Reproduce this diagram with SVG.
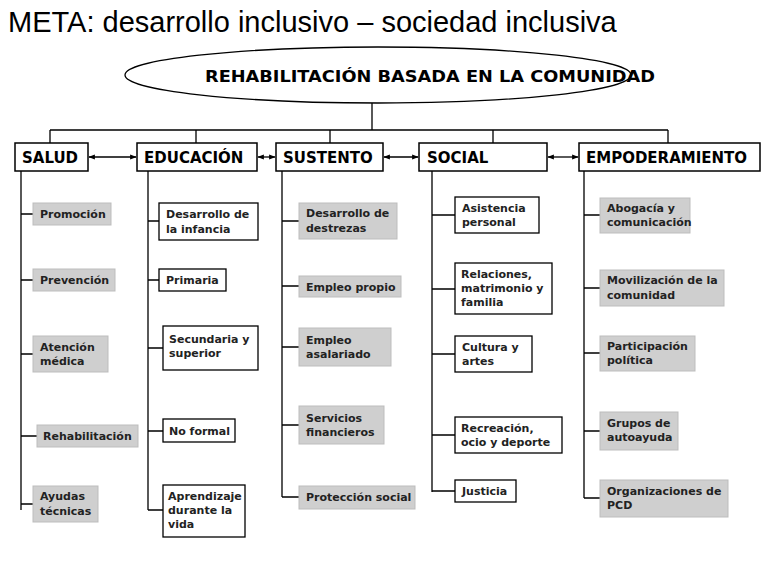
<svg xmlns="http://www.w3.org/2000/svg" width="768" height="576" viewBox="0 0 768 576">
<defs>
<marker id="a" viewBox="0 0 10 10" refX="9" refY="5" markerWidth="5" markerHeight="5" orient="auto-start-reverse"><path d="M0,1 L10,5 L0,9 z" fill="#000"/></marker>
<style>
.h{fill:#fff;stroke:#000;stroke-width:1.5}
.w{fill:#fff;stroke:#000;stroke-width:1.3}
.g{fill:#cfcfcf;stroke:#bdbdbd;stroke-width:1}
.l{stroke:#000;stroke-width:1.3;fill:none}
.ar{stroke:#000;stroke-width:1.3;fill:none;marker-start:url(#a);marker-end:url(#a)}
.ht{font-family:"DejaVu Sans",sans-serif;font-weight:bold;font-size:15px}
.t{font-family:"DejaVu Sans",sans-serif;font-weight:bold;font-size:11px;fill:#222}
</style>
</defs>
<rect width="768" height="576" fill="#fff"/>
<text x="8" y="32" font-family="Liberation Sans,Arial,sans-serif" font-size="29">META: desarrollo inclusivo – sociedad inclusiva</text>
<g id="rbc"><ellipse cx="378" cy="75" rx="253" ry="28" fill="#fff" stroke="#000" stroke-width="1.3"/>
<text x="430" y="82" text-anchor="middle" textLength="450" lengthAdjust="spacingAndGlyphs" class="ht" font-size="18">REHABILITACIÓN BASADA EN LA COMUNIDAD</text></g>
<g id="connectors">
<path class="l" d="M372,103V130M50,130H668M50,130V143M196,130V143M330,130V143M493,130V143M668,130V143"/>
<path class="ar" d="M89,157H136"/>
<path class="ar" d="M258,157H275"/>
<path class="ar" d="M384,157H418"/>
<path class="ar" d="M548,157H578"/>
<path class="l" d="M21,171V510M21,214H33M21,280H33M21,354H33M21,436H37M21,504H33"/>
<path class="l" d="M148,171V510M148,221H159M148,280H159M148,348H163M148,431H163M148,510H163"/>
<path class="l" d="M282,171V497M282,221H299M282,286H299M282,347H299M282,425H299M282,497H299"/>
<path class="l" d="M432,171V492M432,215H455M432,289H455M432,354H455M432,435H455M432,491H455"/>
<path class="l" d="M584,171V498M584,215H600M584,288H600M584,353H600M584,431H600M584,498H600"/>
</g>
<g id="salud"><rect class="h" x="15" y="143" width="73" height="28"/><text class="ht" x="22" y="163">SALUD</text></g>
<g id="educacion"><rect class="h" x="137" y="143" width="120" height="28"/><text class="ht" x="144" y="163">EDUCACIÓN</text></g>
<g id="sustento"><rect class="h" x="276" y="143" width="107" height="28"/><text class="ht" x="283" y="163">SUSTENTO</text></g>
<g id="social"><rect class="h" x="419" y="143" width="128" height="28"/><text class="ht" x="427" y="163">SOCIAL</text></g>
<g id="empoderamiento"><rect class="h" x="579" y="143" width="181" height="28"/><text class="ht" x="586" y="163">EMPODERAMIENTO</text></g>

<g id="promocion"><rect class="g" x="33" y="203" width="78" height="22"/><text class="t" x="40" y="218">Promoción</text></g>
<g id="prevencion"><rect class="g" x="33" y="269" width="82" height="22"/><text class="t" x="40" y="284">Prevención</text></g>
<g id="atencion"><rect class="g" x="33" y="336" width="75" height="36"/><text class="t" x="40" y="351">Atención</text><text class="t" x="40" y="365">médica</text></g>
<g id="rehabilitacion"><rect class="g" x="37" y="425" width="101" height="22"/><text class="t" x="43" y="440">Rehabilitación</text></g>
<g id="ayudas"><rect class="g" x="33" y="486" width="65" height="36"/><text class="t" x="40" y="500">Ayudas</text><text class="t" x="40" y="515">técnicas</text></g>

<g id="infancia"><rect class="w" x="159" y="203" width="99" height="37"/><text class="t" x="166" y="218">Desarrollo de</text><text class="t" x="166" y="233">la infancia</text></g>
<g id="primaria"><rect class="w" x="159" y="269" width="67" height="22"/><text class="t" x="166" y="284">Primaria</text></g>
<g id="secundaria"><rect class="w" x="163" y="326" width="95" height="44"/><text class="t" x="169" y="343">Secundaria y</text><text class="t" x="169" y="357">superior</text></g>
<g id="noformal"><rect class="w" x="163" y="419" width="72" height="23"/><text class="t" x="169" y="435">No formal</text></g>
<g id="aprendizaje"><rect class="w" x="163" y="485" width="82" height="52"/><text class="t" x="168" y="500">Aprendizaje</text><text class="t" x="168" y="514">durante la</text><text class="t" x="168" y="528">vida</text></g>

<g id="destrezas"><rect class="g" x="299" y="203" width="98" height="36"/><text class="t" x="306" y="217">Desarrollo de</text><text class="t" x="306" y="232">destrezas</text></g>
<g id="empleopropio"><rect class="g" x="299" y="276" width="102" height="21"/><text class="t" x="306" y="291">Empleo propio</text></g>
<g id="asalariado"><rect class="g" x="299" y="328" width="92" height="38"/><text class="t" x="306" y="344">Empleo</text><text class="t" x="306" y="358">asalariado</text></g>
<g id="financieros"><rect class="g" x="299" y="406" width="85" height="38"/><text class="t" x="306" y="422">Servicios</text><text class="t" x="306" y="436">financieros</text></g>
<g id="proteccion"><rect class="g" x="299" y="486" width="116" height="23"/><text class="t" x="306" y="501">Protección social</text></g>

<g id="asistencia"><rect class="w" x="455" y="197" width="84" height="36"/><text class="t" x="462" y="212">Asistencia</text><text class="t" x="462" y="226">personal</text></g>
<g id="relaciones"><rect class="w" x="455" y="263" width="97" height="51"/><text class="t" x="461" y="278">Relaciones,</text><text class="t" x="461" y="292">matrimonio y</text><text class="t" x="461" y="306">familia</text></g>
<g id="cultura"><rect class="w" x="455" y="336" width="77" height="36"/><text class="t" x="462" y="351">Cultura  y</text><text class="t" x="462" y="365">artes</text></g>
<g id="recreacion"><rect class="w" x="455" y="417" width="107" height="36"/><text class="t" x="461" y="432">Recreación,</text><text class="t" x="461" y="446">ocio y deporte</text></g>
<g id="justicia"><rect class="w" x="455" y="480" width="61" height="22"/><text class="t" x="462" y="495">Justicia</text></g>

<g id="abogacia"><rect class="g" x="600" y="198" width="90" height="35"/><text class="t" x="607" y="212">Abogacía y</text><text class="t" x="607" y="226">comunicación</text></g>
<g id="movilizacion"><rect class="g" x="600" y="270" width="124" height="36"/><text class="t" x="607" y="284">Movilización de la</text><text class="t" x="607" y="299">comunidad</text></g>
<g id="participacion"><rect class="g" x="600" y="336" width="95" height="35"/><text class="t" x="607" y="350">Participación</text><text class="t" x="607" y="364">política</text></g>
<g id="grupos"><rect class="g" x="600" y="412" width="78" height="38"/><text class="t" x="607" y="427">Grupos de</text><text class="t" x="607" y="441">autoayuda</text></g>
<g id="organizaciones"><rect class="g" x="600" y="480" width="128" height="37"/><text class="t" x="607" y="495">Organizaciones de</text><text class="t" x="607" y="509">PCD</text></g>
</svg>
